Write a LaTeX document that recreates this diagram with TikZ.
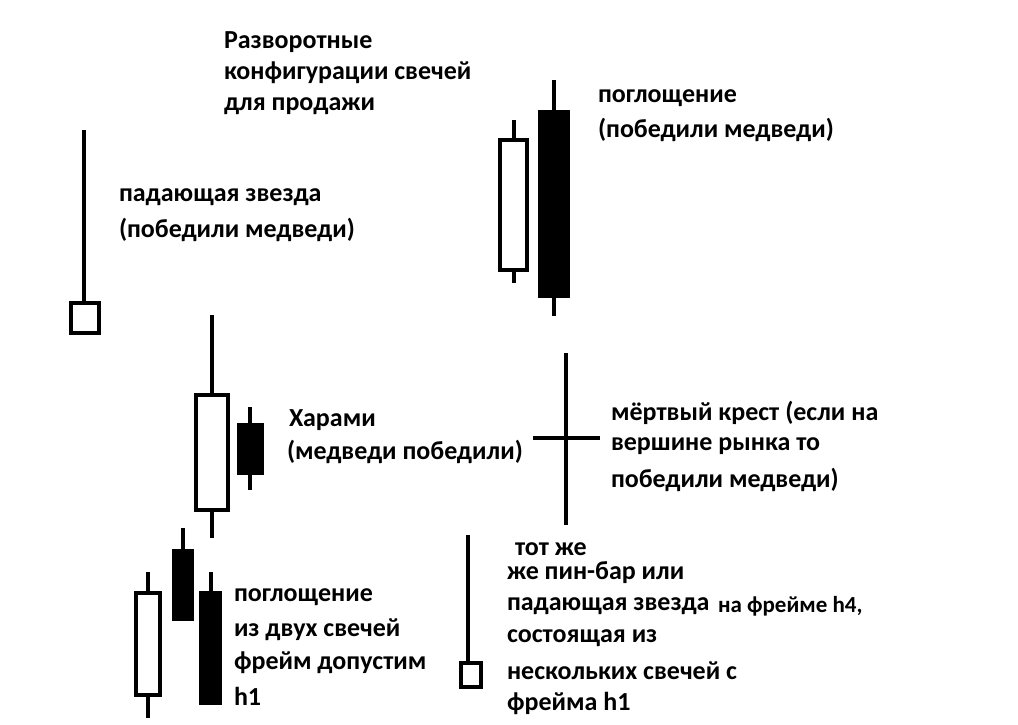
\documentclass[tikz,border=0pt]{standalone}
\usepackage{fontspec}
\setmainfont{Carlito}
\begin{document}
\begin{tikzpicture}[x=1pt,y=-1pt,line width=4pt,
 wick/.style={draw=black,line width=4pt},
 wbody/.style={draw=black,fill=white,line width=4pt},
 bbody/.style={draw=black,fill=black,line width=4pt},
 lbl/.style={anchor=west,inner sep=0pt,font=\bfseries\fontsize{26}{29}\selectfont}]
\useasboundingbox (0,0) rectangle (1018,724);
% falling star
\draw[wick] (84,130) -- (84,303);
\draw[wbody] (71,303) rectangle (99,333);
\node[lbl] (t0) at (222,42) {Разворотные};
\node[lbl] (t1) at (222,73) {конфигурации свечей};
\node[lbl] (t2) at (222,106) {для продажи};
\node[lbl] (fsa) at (117,197) {падающая звезда};
\node[lbl] (fsb) at (117,230) {(победили медведи)};
% engulfing
\draw[wick] (514,120) -- (514,283);
\draw[wbody] (500,140) rectangle (527,270);
\draw[wick] (554,80) -- (554,316);
\draw[bbody] (540,112) rectangle (568,296);
\node[lbl] (ena) at (596,98) {поглощение};
\node[lbl] (enb) at (596,130) {(победили медведи)};
% harami
\draw[wick] (212,315) -- (212,538);
\draw[wbody] (196,395) rectangle (228,510);
\draw[wick] (250,407) -- (250,490);
\draw[bbody] (239,425) rectangle (262,473);
\node[lbl] (ha) at (287,420) {Харами};
\node[lbl] (hb) at (285,452) {(медведи победили)};
% doji
\draw[wick] (566,353) -- (566,525);
\draw[wick] (533,438) -- (600,438);
\node[lbl] (da) at (609,413) {мёртвый крест (если на};
\node[lbl] (db) at (609,446) {вершине рынка то};
\node[lbl] (dc) at (609,480) {победили медведи)};
% pin bar
\draw[wick] (468,535) -- (468,663);
\draw[wbody] (461,663) rectangle (481,687);
\node[lbl] (pa) at (513,549) {тот же};
\node[lbl] (pb) at (505,573) {же пин-бар или};
\node[lbl] (pc) at (505,606) {падающая звезда};
\node[lbl,font=\bfseries\fontsize{23}{26}\selectfont] (pc2) at (716,606) {на фрейме h4,};
\node[lbl] (pd) at (505,638) {состоящая из};
\node[lbl] (pe) at (505,671) {нескольких свечей с};
\node[lbl] (pf) at (505,703) {фрейма h1};
% two-candle engulfing
\draw[wick] (148,572) -- (148,718);
\draw[wbody] (136,593) rectangle (160,695);
\draw[wick] (183,528) -- (183,620);
\draw[bbody] (174,551) rectangle (192,619);
\draw[wick] (211,572) -- (211,703);
\draw[bbody] (201,593) rectangle (220,703);
\node[lbl] (ea) at (232,597) {поглощение};
\node[lbl] (eb) at (232,630) {из двух свечей};
\node[lbl] (ec) at (232,663) {фрейм допустим};
\node[lbl] (ed) at (232,696) {h1};
\end{tikzpicture}
\end{document}
